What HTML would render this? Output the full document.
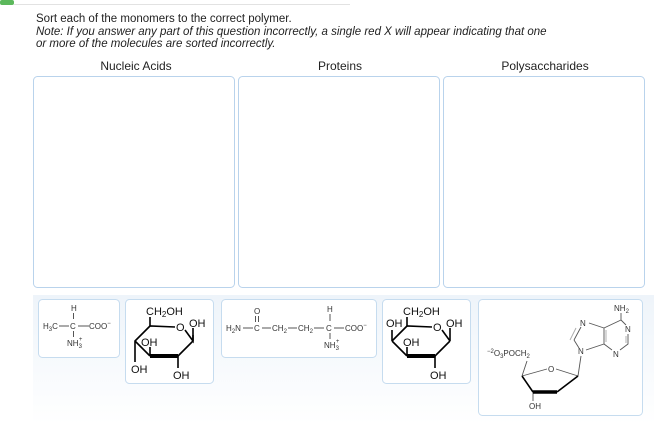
<!DOCTYPE html>
<html><head><meta charset="utf-8"><style>
html,body{margin:0;padding:0;background:#fff;}
body{width:664px;height:424px;overflow:hidden;position:relative;font-family:"Liberation Sans",sans-serif;}
</style></head><body>
<svg width="664" height="424" viewBox="0 0 664 424" xmlns="http://www.w3.org/2000/svg" font-family="Liberation Sans, sans-serif">
<defs>
<linearGradient id="tray" x1="0" y1="0" x2="0" y2="1"><stop offset="0" stop-color="#eef4fa"/><stop offset="1" stop-color="#ffffff"/></linearGradient>
</defs>
<rect x="0" y="0" width="14" height="5" rx="2" fill="#5cb85c"/>
<line x1="14" y1="4.5" x2="350" y2="4.5" stroke="#e2e2e2" stroke-width="1"/>
<text x="36" y="22" font-size="11.5" fill="#222">Sort each of the monomers to the correct polymer.</text>
<text x="36" y="35" font-size="11.5" font-style="italic" fill="#222">Note: If you answer any part of this question incorrectly, a single red X will appear indicating that one</text>
<text x="36" y="47" font-size="11.5" font-style="italic" fill="#222">or more of the molecules are sorted incorrectly.</text>
<text x="136" y="70" font-size="12" fill="#222" text-anchor="middle">Nucleic Acids</text>
<text x="340" y="70" font-size="12" fill="#222" text-anchor="middle">Proteins</text>
<text x="545" y="70" font-size="12" fill="#222" text-anchor="middle">Polysaccharides</text>
<g fill="#fff" stroke="#b9d3ec" stroke-width="1">
<rect x="33.5" y="76.5" width="201" height="211" rx="4"/>
<rect x="238.5" y="76.5" width="201" height="211" rx="4"/>
<rect x="443.5" y="76.5" width="201" height="211" rx="4"/>
</g>
<rect x="33" y="295" width="621" height="129" fill="url(#tray)"/>
<g fill="#fff" stroke="#c6dcef" stroke-width="1">
<rect x="38.5" y="299.5" width="81" height="58" rx="4"/>
<rect x="125.5" y="299.5" width="88" height="84" rx="4"/>
<rect x="221.5" y="299.5" width="155" height="58" rx="4"/>
<rect x="382.5" y="299.5" width="88" height="84" rx="4"/>
<rect x="478.5" y="299.5" width="164" height="116" rx="4"/>
</g>
<g font-size="8" fill="#333">
<text x="71" y="311">H</text>
<line x1="73.5" y1="313" x2="73.5" y2="319" stroke="#555"/>
<text x="43" y="329">H<tspan font-size="6" dy="2">3</tspan><tspan dy="-2">C</tspan></text>
<line x1="59" y1="326" x2="69" y2="326" stroke="#555"/>
<text x="70" y="329">C</text>
<line x1="78" y1="326" x2="89" y2="326" stroke="#555"/>
<text x="89" y="329">COO<tspan font-size="6" dy="-4">−</tspan></text>
<line x1="73.5" y1="331" x2="73.5" y2="337" stroke="#555"/>
<text x="67" y="346">NH<tspan font-size="6" dy="2">3</tspan><tspan font-size="6" dx="-3" dy="-7">+</tspan></text>
</g>
<g font-size="8" fill="#333">
<text x="254" y="314">O</text>
<line x1="255.5" y1="316" x2="255.5" y2="322" stroke="#555"/><line x1="258.5" y1="316" x2="258.5" y2="322" stroke="#555"/>
<text x="226" y="331">H<tspan font-size="6" dy="2">2</tspan><tspan dy="-2">N</tspan></text>
<line x1="243" y1="328" x2="253" y2="328" stroke="#555"/>
<text x="254" y="331">C</text>
<line x1="262" y1="328" x2="271" y2="328" stroke="#555"/>
<text x="272" y="331">CH<tspan font-size="6" dy="2">2</tspan></text>
<line x1="288" y1="328" x2="297" y2="328" stroke="#555"/>
<text x="298" y="331">CH<tspan font-size="6" dy="2">2</tspan></text>
<line x1="314" y1="328" x2="324" y2="328" stroke="#555"/>
<text x="327" y="312">H</text>
<line x1="330" y1="314" x2="330" y2="321" stroke="#555"/>
<text x="326" y="331">C</text>
<line x1="334" y1="328" x2="344" y2="328" stroke="#555"/>
<text x="345" y="331">COO<tspan font-size="6" dy="-4">−</tspan></text>
<line x1="330" y1="333" x2="330" y2="339" stroke="#555"/>
<text x="324" y="348">NH<tspan font-size="6" dy="2">3</tspan><tspan font-size="6" dx="-3" dy="-7">+</tspan></text>
</g>
<g fill="#111" font-size="11">
<text x="146" y="315">CH<tspan font-size="8" dy="2">2</tspan><tspan dy="-2">OH</tspan></text>
<text x="176" y="331">O</text>
<text x="189" y="327">OH</text>
<text x="141" y="346">OH</text>
<text x="131" y="373">OH</text>
<text x="173" y="379">OH</text>
<g stroke="#000" stroke-width="1.6" fill="none">
<line x1="150" y1="317" x2="150" y2="326"/>
<polyline points="175,327 150,326 135,341 135,362"/>
<polyline points="185,330 193,341 193,335"/>
<line x1="193" y1="341" x2="193" y2="328"/>
<line x1="193" y1="341" x2="178" y2="356"/>
<line x1="178" y1="356" x2="178" y2="368"/>
<line x1="135" y1="341" x2="150" y2="356"/>
<line x1="150" y1="356" x2="150" y2="347"/>
</g>
<line x1="150" y1="356" x2="178" y2="356" stroke="#000" stroke-width="4"/>
</g>
<g fill="#111" font-size="11">
<text x="403" y="315">CH<tspan font-size="8" dy="2">2</tspan><tspan dy="-2">OH</tspan></text>
<text x="433" y="331">O</text>
<text x="446" y="327">OH</text>
<text x="403" y="346">OH</text>
<text x="386" y="327">OH</text>
<text x="430" y="379">OH</text>
<g stroke="#000" stroke-width="1.6" fill="none">
<line x1="407" y1="317" x2="407" y2="326"/>
<polyline points="432,327 407,326 392,341"/>
<line x1="392" y1="341" x2="392" y2="330"/>
<line x1="442" y1="330" x2="450" y2="341"/>
<line x1="450" y1="341" x2="450" y2="328"/>
<line x1="450" y1="341" x2="435" y2="356"/>
<line x1="435" y1="356" x2="435" y2="368"/>
<line x1="392" y1="341" x2="407" y2="356"/>
<line x1="407" y1="356" x2="407" y2="347"/>
</g>
<line x1="407" y1="356" x2="435" y2="356" stroke="#000" stroke-width="4"/>
</g>
<g font-size="8" fill="#333">
<text x="614" y="311">NH<tspan font-size="6" dy="2">2</tspan></text>
<text x="625" y="332">N</text>
<text x="613" y="357">N</text>
<text x="580" y="326">N</text>
<text x="578" y="354">N</text>
<text x="487" y="356"><tspan font-size="6" dy="-3">−2</tspan><tspan dy="3">O</tspan><tspan font-size="6" dy="2">3</tspan><tspan dy="-2">POCH</tspan><tspan font-size="6" dy="2">2</tspan></text>
<text x="548" y="372">O</text>
<text x="529" y="409">OH</text>
<g stroke="#555" stroke-width="0.9" fill="none">
<line x1="621" y1="313" x2="621" y2="320"/>
<polyline points="621,320 626,325"/>
<polyline points="628,334 628,344 620,350"/>
<polyline points="612,350 604,344 604,328 621,320"/>
<line x1="626" y1="336" x2="626" y2="343" stroke="#aaa"/>
<line x1="606" y1="330" x2="606" y2="342" stroke="#aaa"/>
<line x1="604" y1="328" x2="589" y2="323"/>
<line x1="581" y1="327" x2="574" y2="340"/>
<line x1="576" y1="328" x2="570" y2="340" stroke="#aaa"/>
<line x1="574" y1="340" x2="579" y2="348"/>
<line x1="586" y1="350" x2="604" y2="344"/>
<line x1="581" y1="356" x2="578" y2="376"/>
<line x1="578" y1="376" x2="556" y2="369"/>
<line x1="547" y1="369" x2="522" y2="376"/>
<line x1="522" y1="376" x2="527" y2="361"/>
<line x1="533" y1="392" x2="533" y2="401"/>
</g>
<g stroke="#000" stroke-width="1.6" fill="none">
<line x1="522" y1="376" x2="533" y2="392"/>
<line x1="557" y1="392" x2="578" y2="376"/>
</g>
<line x1="533" y1="392" x2="557" y2="392" stroke="#000" stroke-width="3.5"/>
</g>
</svg>
</body></html>
